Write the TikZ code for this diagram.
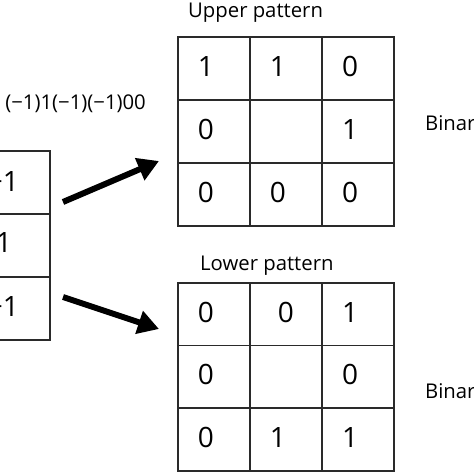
\documentclass[tikz,border=0pt]{standalone}
\usepackage{fontspec}
\setmainfont{Open Sans}
\usetikzlibrary{arrows.meta}
\definecolor{gridline}{HTML}{2A2A2A}
\tikzset{
  cell/.style={draw=gridline, line width=1.6pt, minimum width=72pt, minimum height=63pt, inner sep=0pt, anchor=north west},
  lcell/.style={cell, minimum height=62.7pt},
  digit/.style={font=\fontsize{28}{30}\selectfont, inner sep=0pt, text=black},
  lbl/.style={font=\fontsize{20.3}{24}\selectfont, inner sep=0pt, text=black},
  bigarrow/.style={line width=6pt, -{Triangle[length=21pt,width=23pt]}, black}
}
\begin{document}
\begin{tikzpicture}[x=1pt,y=-1pt]
\useasboundingbox (0,0) rectangle (474,474);
\clip (0,0) rectangle (474,474);
% upper grid
\foreach \r/\yy in {1/36,2/99,3/162}{
  \foreach \c/\xx in {1/177,2/249.2,3/321.4}{
    \node[cell] (u\r\c) at (\xx,\yy) {};
  }
}
% lower grid
\foreach \r/\yy in {1/282,2/344.7,3/407.4}{
  \foreach \c/\xx in {1/177,2/249.2,3/321.4}{
    \node[lcell] (w\r\c) at (\xx,\yy) {};
  }
}
% left grid
\foreach \r/\yy in {1/150,2/213,3/276}{
  \node[cell] (l\r) at (-23,\yy) {};
}
% upper digits
\node[digit] at ([xshift=-8pt,yshift=2pt]u11.center) {1};
\node[digit] at ([xshift=-8pt,yshift=2pt]u12.center) {1};
\node[digit] at ([xshift=-8pt,yshift=2pt]u13.center) {0};
\node[digit] at ([xshift=-8pt,yshift=2pt]u21.center) {0};
\node[digit] at ([xshift=-8pt,yshift=2pt]u23.center) {1};
\node[digit] at ([xshift=-8pt,yshift=2pt]u31.center) {0};
\node[digit] at ([xshift=-8pt,yshift=2pt]u32.center) {0};
\node[digit] at ([xshift=-8pt,yshift=2pt]u33.center) {0};
% lower digits
\node[digit] at ([xshift=-8pt,yshift=2pt]w11.center) {0};
\node[digit] at ([xshift=0pt,yshift=2pt]w12.center) {0};
\node[digit] at ([xshift=-8pt,yshift=2pt]w13.center) {1};
\node[digit] at ([xshift=-8pt,yshift=2pt]w21.center) {0};
\node[digit] at ([xshift=-8pt,yshift=2pt]w23.center) {0};
\node[digit] at ([xshift=-8pt,yshift=2pt]w31.center) {0};
\node[digit] at ([xshift=-8pt,yshift=2pt]w32.center) {1};
\node[digit] at ([xshift=-8pt,yshift=2pt]w33.center) {1};
% left digits
\node[digit, anchor=east] (ld1) at (19,182) {−1};
\node[digit, anchor=east] (ld2) at (12,243) {1};
\node[digit, anchor=east] (ld3) at (19,307) {−1};
% labels
\node[lbl, anchor=west] (up) at (188,13) {Upper pattern};
\node[lbl, anchor=west] (lo) at (200,266) {Lower pattern};
\node[lbl, anchor=east] (code) at (146,104) {(−1)1(−1)(−1)00};
\node[lbl, anchor=west] (b1) at (425,123) {Binar};
\node[lbl, anchor=west] (b2) at (425,391) {Binar};
% arrows
\coordinate (a1s) at (63,202);
\coordinate (a1e) at (159,161);
\coordinate (a2s) at (63,297);
\coordinate (a2e) at (159,329);
\draw[bigarrow] (a1s) -- (a1e);
\draw[bigarrow] (a2s) -- (a2e);
\end{tikzpicture}
\end{document}
